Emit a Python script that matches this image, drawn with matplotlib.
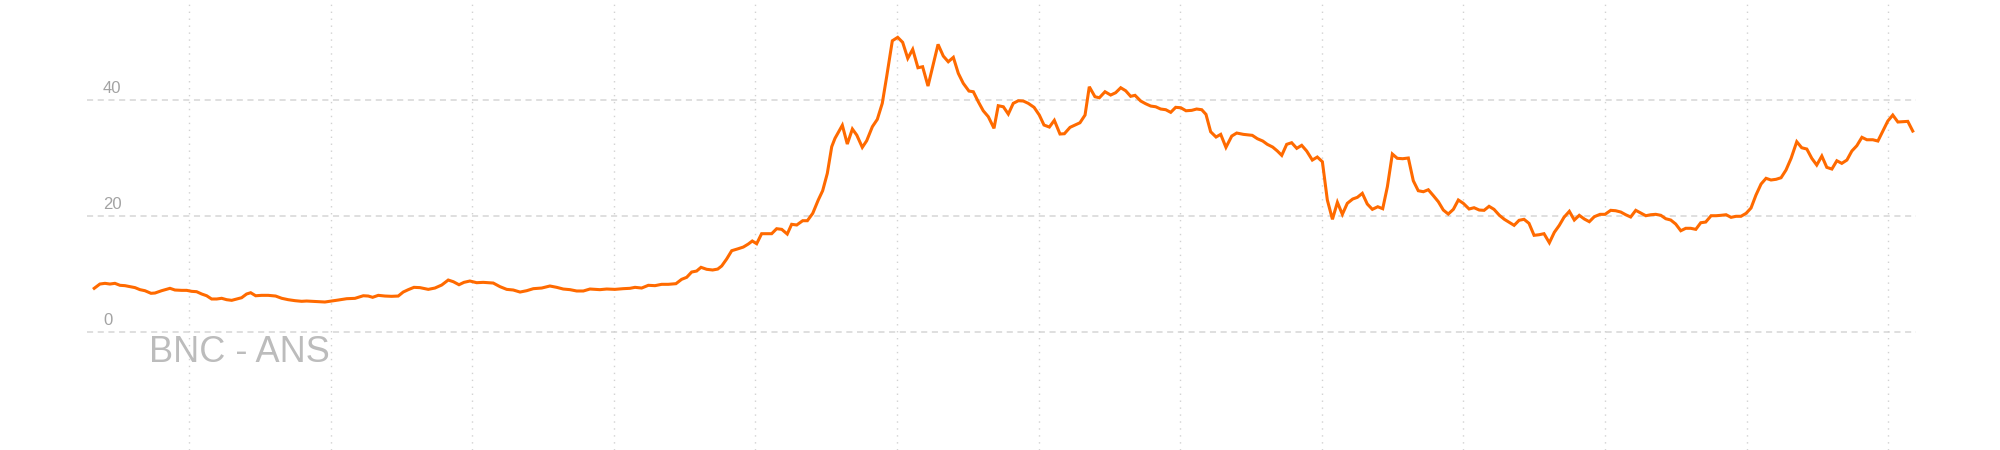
import matplotlib
matplotlib.use("Agg")
import matplotlib.pyplot as plt
import numpy as np

plt.rcParams['font.family'] = ['Liberation Sans', 'DejaVu Sans']

# time axis in grid periods (vertical grid lines at whole numbers)
t = [-0.669, -0.629, -0.593, -0.558, -0.523, -0.487, -0.452, -0.417, -0.381, -0.346,
     -0.311, -0.268, -0.240, -0.193, -0.134, -0.099, -0.052, -0.016, 0.019, 0.054,
     0.090, 0.125, 0.160, 0.196, 0.231, 0.266, 0.302, 0.337, 0.372, 0.407,
     0.436, 0.471, 0.513, 0.560, 0.612, 0.655, 0.701, 0.749, 0.796, 0.831,
     0.867, 0.913, 0.960, 1.008, 1.054, 1.114, 1.172, 1.231, 1.266, 1.297,
     1.337, 1.384, 1.431, 1.478, 1.513, 1.549, 1.589, 1.631, 1.690, 1.737,
     1.785, 1.831, 1.867, 1.907, 1.942, 1.984, 2.032, 2.078, 2.149, 2.196,
     2.244, 2.290, 2.338, 2.385, 2.432, 2.491, 2.549, 2.597, 2.643, 2.691,
     2.738, 2.785, 2.832, 2.902, 2.950, 3.008, 3.067, 3.114, 3.150, 3.197,
     3.244, 3.291, 3.338, 3.385, 3.439, 3.479, 3.515, 3.550, 3.585, 3.616,
     3.656, 3.698, 3.734, 3.762, 3.797, 3.833, 3.879, 3.915, 3.950, 3.978,
     4.009, 4.044, 4.080, 4.115, 4.150, 4.186, 4.225, 4.256, 4.292, 4.334,
     4.367, 4.405, 4.444, 4.475, 4.508, 4.539, 4.562, 4.614, 4.649, 4.685,
     4.716, 4.755, 4.786, 4.826, 4.861, 4.896, 4.927, 4.967, 5.005, 5.040,
     5.076, 5.111, 5.148, 5.181, 5.219, 5.256, 5.290, 5.327, 5.362, 5.398,
     5.433, 5.468, 5.508, 5.539, 5.574, 5.609, 5.645, 5.685, 5.715, 5.751,
     5.786, 5.821, 5.857, 5.892, 5.927, 5.968, 6.005, 6.038, 6.076, 6.111,
     6.151, 6.182, 6.222, 6.257, 6.292, 6.328, 6.358, 6.398, 6.429, 6.469,
     6.509, 6.544, 6.580, 6.615, 6.650, 6.681, 6.721, 6.756, 6.792, 6.827,
     6.862, 6.898, 6.933, 6.968, 7.004, 7.041, 7.081, 7.116, 7.152, 7.182,
     7.215, 7.253, 7.286, 7.323, 7.364, 7.399, 7.446, 7.509, 7.545, 7.583,
     7.615, 7.653, 7.686, 7.717, 7.752, 7.787, 7.823, 7.858, 7.893, 7.933,
     7.968, 8.004, 8.039, 8.075, 8.110, 8.145, 8.180, 8.218, 8.251, 8.286,
     8.321, 8.357, 8.395, 8.430, 8.463, 8.498, 8.533, 8.571, 8.611, 8.646,
     8.681, 8.717, 8.752, 8.788, 8.823, 8.858, 8.893, 8.929, 8.964, 8.999,
     9.040, 9.075, 9.112, 9.146, 9.181, 9.216, 9.254, 9.289, 9.324, 9.358,
     9.393, 9.428, 9.463, 9.499, 9.534, 9.569, 9.607, 9.642, 9.677, 9.710,
     9.748, 9.783, 9.818, 9.854, 9.889, 9.924, 9.965, 10.000, 10.040, 10.075,
     10.111, 10.146, 10.181, 10.217, 10.252, 10.288, 10.323, 10.358, 10.394, 10.429,
     10.464, 10.499, 10.535, 10.570, 10.605, 10.641, 10.676, 10.711, 10.749, 10.784,
     10.819, 10.855, 10.890, 10.925, 10.960, 10.996, 11.031, 11.066, 11.102, 11.137,
     11.172, 11.208, 11.243, 11.278, 11.314, 11.354, 11.389, 11.425, 11.460, 11.495,
     11.531, 11.566, 11.602, 11.637, 11.672, 11.708, 11.743, 11.778, 11.814, 11.849,
     11.891, 11.927, 11.962, 11.997, 12.032, 12.068, 12.103, 12.138, 12.173]

bnc_ans = [7.48, 8.22, 8.34, 8.22, 8.34, 8.00, 7.94, 7.77, 7.60, 7.25,
           7.07, 6.62, 6.67, 7.07, 7.48, 7.19, 7.13, 7.13, 6.96, 6.90,
           6.50, 6.20, 5.64, 5.64, 5.76, 5.52, 5.41, 5.64, 5.86, 6.50,
           6.72, 6.20, 6.27, 6.27, 6.15, 5.76, 5.52, 5.35, 5.24, 5.29,
           5.24, 5.17, 5.12, 5.29, 5.46, 5.69, 5.75, 6.20, 6.15, 5.93,
           6.27, 6.15, 6.10, 6.15, 6.84, 7.25, 7.65, 7.60, 7.30, 7.53,
           8.05, 8.91, 8.62, 8.10, 8.51, 8.74, 8.45, 8.51, 8.39, 7.77,
           7.30, 7.19, 6.84, 7.07, 7.42, 7.53, 7.88, 7.65, 7.36, 7.25,
           7.02, 7.02, 7.36, 7.25, 7.36, 7.30, 7.42, 7.48, 7.65, 7.53,
           8.00, 7.94, 8.17, 8.17, 8.28, 9.03, 9.38, 10.29, 10.46, 11.10,
           10.76, 10.64, 10.80, 11.33, 12.53, 13.97, 14.31, 14.60, 15.12, 15.64,
           15.17, 16.90, 16.90, 16.90, 17.76, 17.65, 16.84, 18.52, 18.40, 19.14,
           19.14, 20.41, 22.71, 24.31, 27.31, 31.90, 33.34, 35.60, 32.36, 34.95,
           33.90, 31.79, 32.93, 35.35, 36.62, 39.38, 43.97, 50.17, 50.76, 49.90,
           47.14, 48.69, 45.52, 45.69, 42.36, 46.10, 49.55, 47.53, 46.55, 47.31,
           44.55, 42.83, 41.50, 41.38, 39.66, 38.10, 37.07, 35.07, 38.97, 38.79,
           37.53, 39.38, 39.83, 39.78, 39.38, 38.69, 37.36, 35.64, 35.29, 36.45,
           34.09, 34.14, 35.24, 35.64, 36.03, 37.36, 42.24, 40.52, 40.34, 41.38,
           40.81, 41.21, 42.07, 41.55, 40.59, 40.76, 39.78, 39.31, 38.91, 38.79,
           38.40, 38.28, 37.83, 38.69, 38.62, 38.10, 38.17, 38.40, 38.28, 37.48,
           34.48, 33.57, 34.03, 31.79, 33.74, 34.26, 34.03, 33.86, 33.28, 32.88,
           32.31, 31.84, 31.16, 30.41, 32.31, 32.59, 31.62, 32.14, 31.16, 29.60,
           30.12, 29.31, 22.71, 19.38, 22.31, 20.24, 22.14, 22.88, 23.17, 23.86,
           22.02, 21.10, 21.55, 21.21, 25.00, 30.64, 29.90, 29.83, 29.95, 26.03,
           24.31, 24.14, 24.48, 23.45, 22.41, 20.98, 20.29, 21.10, 22.71, 22.14,
           21.16, 21.38, 20.98, 20.93, 21.62, 21.10, 20.07, 19.38, 18.86, 18.34,
           19.21, 19.38, 18.69, 16.62, 16.72, 16.90, 15.34, 17.14, 18.34, 19.72,
           20.76, 19.26, 20.07, 19.43, 18.97, 19.83, 20.24, 20.24, 20.93, 20.86,
           20.64, 20.17, 19.78, 20.93, 20.47, 20.00, 20.17, 20.24, 20.07, 19.48,
           19.26, 18.57, 17.41, 17.83, 17.83, 17.65, 18.79, 18.91, 20.00, 20.00,
           20.07, 20.17, 19.72, 19.90, 19.90, 20.41, 21.33, 23.57, 25.47, 26.45,
           26.16, 26.28, 26.55, 27.88, 29.90, 32.76, 31.72, 31.50, 29.90, 28.74,
           30.29, 28.34, 28.05, 29.48, 29.03, 29.60, 31.16, 32.07, 33.52, 33.10,
           33.10, 32.88, 34.60, 36.33, 37.36, 36.16, 36.21, 36.27, 34.60]

y_ticks = [0, 20, 40]
x_grid = list(range(0, 13))
title = "BNC - ANS"

fig = plt.figure(figsize=(20, 4.5), dpi=100)
ax = fig.add_axes([0.0435, 0.0, 0.9145, 1.0])

ax.plot(t, bnc_ans, color='#ff6a00', linewidth=2.2, solid_joinstyle='miter', zorder=3)

ax.set_xlim(-0.720, 12.196)
ax.set_ylim(-20.4, 57.2)

for v in y_ticks:
    ax.axhline(v, color='#d6d6d6', linewidth=1.1, linestyle=(0, (4, 3)), zorder=1)
    ax.annotate(str(v), xy=(0, v), xycoords=('axes fraction', 'data'),
                xytext=(16, 4), textcoords='offset pixels',
                ha='left', va='bottom', fontsize=12, color='#a3a3a3')
for x in x_grid:
    ax.axvline(x, color='#d2d2d2', linewidth=1.0, linestyle=(0, (1, 4)), zorder=1)

for s in ax.spines.values():
    s.set_visible(False)
ax.set_xticks([])
ax.set_yticks([])

fig.text(149 / 2000, 1 - 335 / 450, title, ha='left', va='top',
         fontsize=26, color='#bcbcbc')

fig.savefig('out.png', dpi=100)
